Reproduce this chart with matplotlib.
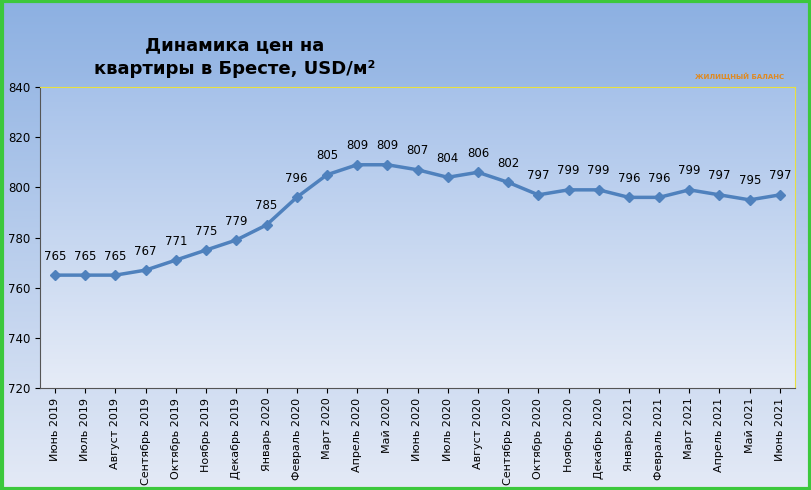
import matplotlib
matplotlib.use("Agg")
import matplotlib.pyplot as plt
import numpy as np
from matplotlib.colors import LinearSegmentedColormap

months = ["Июнь 2019","Июль 2019","Август 2019","Сентябрь 2019","Октябрь 2019","Ноябрь 2019",
          "Декабрь 2019","Январь 2020","Февраль 2020","Март 2020","Апрель 2020","Май 2020",
          "Июнь 2020","Июль 2020","Август 2020","Сентябрь 2020","Октябрь 2020","Ноябрь 2020",
          "Декабрь 2020","Январь 2021","Февраль 2021","Март 2021","Апрель 2021","Май 2021","Июнь 2021"]
prices = [765,765,765,767,771,775,779,785,796,805,809,809,807,804,806,802,797,799,799,796,796,799,797,795,797]
yticks = [720,740,760,780,800,820,840]

fig = plt.figure(figsize=(8.12,4.9), dpi=100)
bg = fig.add_axes([0,0,1,1], zorder=-10)
grad = np.linspace(0,1,256).reshape(-1,1)
cm = LinearSegmentedColormap.from_list("g", ["#8cb0e2", "#e4eaf6"])
bg.imshow(grad, aspect="auto", cmap=cm, extent=[0,1,0,1], origin="upper")
bg.set_xlim(0,1); bg.set_ylim(0,1); bg.axis("off")
bg.add_patch(plt.Rectangle((0.002,0.003),0.996,0.994, fill=False, edgecolor="#3cc83c", linewidth=3))

ax = fig.add_axes([40/812, 1-388/490, 755/812, 301/490])
cm2 = LinearSegmentedColormap.from_list("p", ["#a7c2ea", "#e6ecf7"])
ax.imshow(grad, aspect="auto", cmap=cm2, extent=[-0.5,len(months)-0.5,720,840], origin="upper", zorder=0)
x = np.arange(len(months))
ax.plot(x, prices, color="#4f81bd", linewidth=2.5, marker="D", markersize=5, zorder=3)
for xi, v in zip(x, prices):
    ax.annotate(str(v), (xi, v), xytext=(0,9), textcoords="offset points", ha="center", va="bottom", fontsize=8.5, color="black")
ax.set_xlim(-0.5, len(months)-0.5)
ax.set_ylim(720, 840)
ax.set_yticks(yticks)
ax.set_xticks(x)
ax.set_xticklabels(months, rotation=90, fontsize=8)
ax.tick_params(axis="y", labelsize=8.5)
for s in ["left","bottom"]:
    ax.spines[s].set_color("#555555")
for s in ["top","right"]:
    ax.spines[s].set_color("#e8e040")
ax.set_aspect("auto")

fig.text(235/812, 1-57/490, "Динамика цен на\nквартиры в Бресте, USD/м²", ha="center", va="center",
         fontsize=13, fontweight="bold", linespacing=1.4)
fig.text(740/812, 1-76/490, "ЖИЛИЩНЫЙ БАЛАНС", ha="center", va="center", fontsize=5, color="#e08a20", fontweight="bold")
fig.savefig("out.png", dpi=100)
